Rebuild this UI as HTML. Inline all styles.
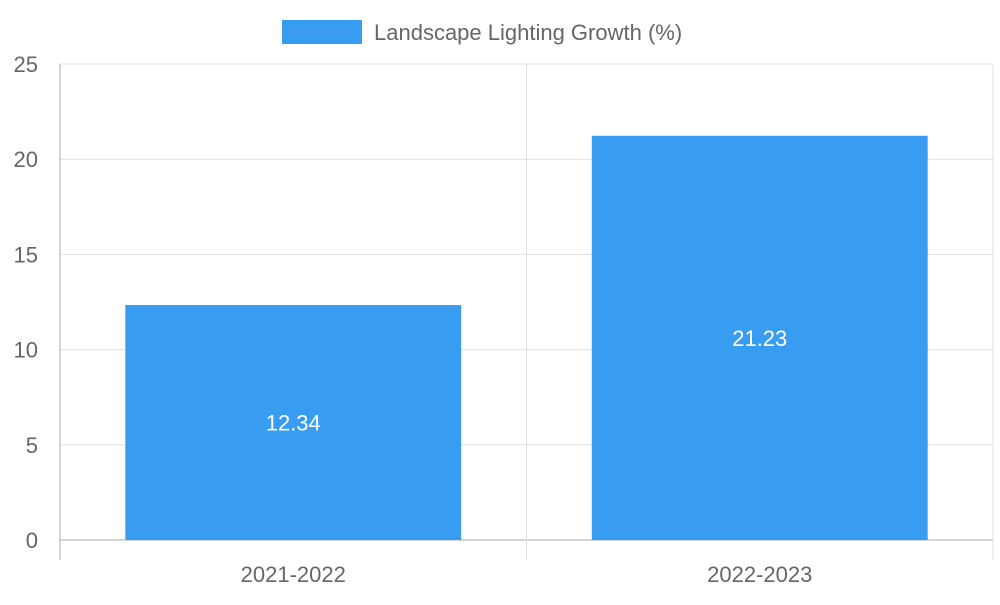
<!DOCTYPE html>
<html><head><meta charset="utf-8"><style>
body{margin:0;background:#fff;}
svg text{font-family:"Liberation Sans",sans-serif;}
</style></head><body>
<svg id="chart" width="1000" height="600" xmlns="http://www.w3.org/2000/svg">
<rect x="282" y="20" width="80" height="24" fill="#389cf0"/>
<text x="374" y="40" font-size="22" fill="#666">Landscape Lighting Growth (%)</text>
<g id="grid"></g><g id="bars"></g>
</svg>
<script>
const categories=["2021-2022","2022-2023"];
const values=[12.34,21.23];
const ticks=[0,5,10,15,20,25];
const L=60,R=993,T=64,B=540,maxV=25;
const y=v=>B-(v/maxV)*(B-T);
const cw=(R-L)/categories.length;
const x=i=>L+cw*i;
const NS="http://www.w3.org/2000/svg";
const g=document.getElementById('grid'),bg=document.getElementById('bars');
function mk(tag,attrs,parent,txt){const e=document.createElementNS(NS,tag);for(const k in attrs)e.setAttribute(k,attrs[k]);if(txt!==undefined)e.textContent=txt;parent.appendChild(e);return e;}
ticks.forEach(t=>{
 const ln=mk('line',{x1:L,x2:R,y1:y(t),y2:y(t),stroke:t===0?'#aaa':'#e0e0e0','stroke-width':1},g);
 
 
 const tx=mk('text',{x:38,y:y(t)+8,'font-size':22,fill:'#666','text-anchor':'end'},g,String(t));
 
 
});
for(let i=0;i<=categories.length;i++){
 const ln=mk('line',{x1:x(i),x2:x(i),y1:T,y2:B+20,stroke:i===0?'#aaa':'#e0e0e0','stroke-width':1},g);
 
 
}
categories.forEach((c,i)=>{
 const bw=cw*0.72,bx=x(i)+(cw-bw)/2;
 const r=mk('rect',{x:bx,y:y(values[i]),width:bw,height:B-y(values[i]),fill:'#389cf0'},bg);
 
 
 const v=mk('text',{x:x(i)+cw/2,y:(y(values[i])+B)/2+8,'font-size':22,fill:'#fff','text-anchor':'middle'},bg,values[i].toFixed(2));
 
 
 const l=mk('text',{x:x(i)+cw/2,y:582,'font-size':22,fill:'#666','text-anchor':'middle'},bg,c);
 
 
});
</script>
</body></html>
